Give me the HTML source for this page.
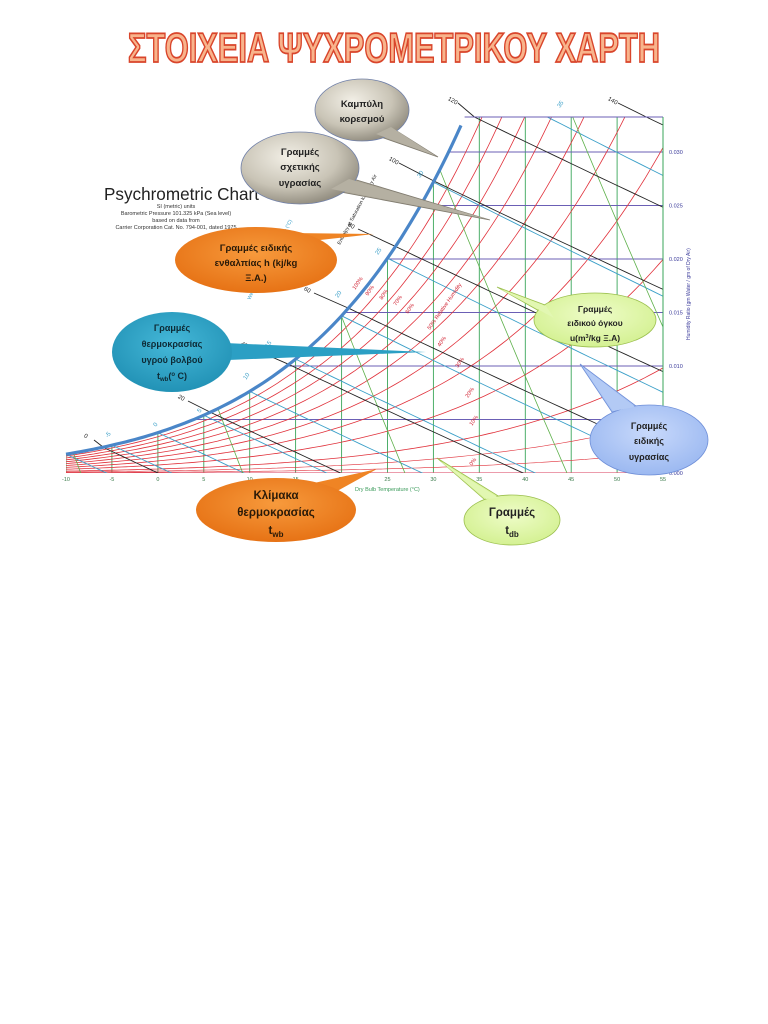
<!DOCTYPE html>
<html><head><meta charset="utf-8">
<style>
html,body{margin:0;padding:0;background:#fff;}
svg{display:block;font-family:"Liberation Sans","DejaVu Sans",sans-serif;}
</style></head>
<body>
<svg id="s" width="768" height="1024" viewBox="0 0 768 1024" xmlns="http://www.w3.org/2000/svg">
<defs>
<radialGradient id="gray" cx="40%" cy="35%" r="70%"><stop offset="0" stop-color="#f2efe6"/><stop offset="0.6" stop-color="#c9c4b6"/><stop offset="1" stop-color="#8c877a"/></radialGradient>
<radialGradient id="orange" cx="50%" cy="40%" r="65%"><stop offset="0" stop-color="#f79a3c"/><stop offset="1" stop-color="#e56f12"/></radialGradient>
<radialGradient id="teal" cx="50%" cy="40%" r="65%"><stop offset="0" stop-color="#45b8d8"/><stop offset="1" stop-color="#1f8fb3"/></radialGradient>
<radialGradient id="lgreen" cx="50%" cy="40%" r="65%"><stop offset="0" stop-color="#eefcc8"/><stop offset="1" stop-color="#d2f08e"/></radialGradient>
<radialGradient id="lblue" cx="50%" cy="40%" r="65%"><stop offset="0" stop-color="#c8d9fb"/><stop offset="1" stop-color="#98b6f0"/></radialGradient>
<clipPath id="clip"><polygon id="clipPoly" points=""/></clipPath>
</defs>
<text x="394" y="62" text-anchor="middle" font-size="42" font-weight="bold" fill="#f8b48c" stroke="#d9452b" stroke-width="1.8" textLength="532" lengthAdjust="spacingAndGlyphs">ΣΤΟΙΧΕΙΑ ΨΥΧΡΟΜΕΤΡΙΚΟΥ ΧΑΡΤΗ</text>

<text x="104" y="200" font-size="17.5" fill="#222" textLength="155" lengthAdjust="spacingAndGlyphs">Psychrometric Chart</text>
<g font-size="5.5" fill="#333" text-anchor="middle">
<text x="176" y="208">SI (metric) units</text>
<text x="176" y="215">Barometric Pressure 101.325 kPa (Sea level)</text>
<text x="176" y="222">based on data from</text>
<text x="176" y="229">Carrier Corporation Cat. No. 794-001, dated 1975</text>
</g>
<g id="chart"></g>
<g id="callouts">
<polygon points="375,135 392,128 438,157" fill="#aaa596" stroke="#7f7a6e" stroke-width="0.8"/>
<ellipse cx="362" cy="110" rx="47" ry="31" fill="url(#gray)" stroke="#6f7fa8" stroke-width="0.8"/>
<polygon points="376,134 391,127 436,156" fill="#b5b0a2"/>
<text x="362" y="107" text-anchor="middle" font-size="9.5" font-weight="bold" fill="#222">Καμπύλη</text>
<text x="362" y="122" text-anchor="middle" font-size="9.5" font-weight="bold" fill="#222">κορεσμού</text>
<polygon points="330,190 350,178 490,220" fill="#aaa596" stroke="#7f7a6e" stroke-width="0.8"/>
<ellipse cx="300" cy="168" rx="59" ry="36" fill="url(#gray)" stroke="#6f7fa8" stroke-width="0.8"/>
<polygon points="331,189 349,179 487,219" fill="#b5b0a2"/>
<text x="300" y="155" text-anchor="middle" font-size="9.5" font-weight="bold" fill="#222">Γραμμές</text>
<text x="300" y="170" text-anchor="middle" font-size="9.5" font-weight="bold" fill="#222">σχετικής</text>
<text x="300" y="186" text-anchor="middle" font-size="9.5" font-weight="bold" fill="#222">υγρασίας</text>
<polygon points="290,233 320,240 374,234" fill="#ef8424"/>
<ellipse cx="256" cy="260" rx="81" ry="33" fill="url(#orange)"/>
<text x="256" y="251" text-anchor="middle" font-size="9.5" font-weight="bold" fill="#2a1a08">Γραμμές ειδικής</text>
<text x="256" y="266" text-anchor="middle" font-size="9.5" font-weight="bold" fill="#2a1a08">ενθαλπίας h (kj/kg</text>
<text x="256" y="281" text-anchor="middle" font-size="9.5" font-weight="bold" fill="#2a1a08">Ξ.Α.)</text>
<polygon points="225,343 228,360 426,352" fill="#2b9fc4"/>
<ellipse cx="172" cy="352" rx="60" ry="40" fill="url(#teal)"/>
<text x="172" y="331" text-anchor="middle" font-size="9" font-weight="bold" fill="#0e2a35">Γραμμές</text>
<text x="172" y="347" text-anchor="middle" font-size="9" font-weight="bold" fill="#0e2a35">θερμοκρασίας</text>
<text x="172" y="363" text-anchor="middle" font-size="9" font-weight="bold" fill="#0e2a35">υγρού βολβού</text>
<text x="172" y="379" text-anchor="middle" font-size="9" font-weight="bold" fill="#0e2a35">t<tspan font-size="6" dy="2">wb</tspan><tspan dy="-2">(</tspan><tspan font-size="6" dy="-3">o</tspan><tspan dy="3"> C)</tspan></text>
<polygon points="545,305 555,320 497,287" fill="#d9f39a" stroke="#9bbf4e" stroke-width="0.8"/>
<ellipse cx="595" cy="320" rx="61" ry="27" fill="url(#lgreen)" stroke="#9bbf4e" stroke-width="0.8"/>
<polygon points="546,306 554,318 500,289" fill="#e2f7b2"/>
<text x="595" y="312" text-anchor="middle" font-size="8.5" font-weight="bold" fill="#222">Γραμμές</text>
<text x="595" y="326" text-anchor="middle" font-size="8.5" font-weight="bold" fill="#222">ειδικού όγκου</text>
<text x="595" y="341" text-anchor="middle" font-size="8.5" font-weight="bold" fill="#222">u(m<tspan font-size="5.5" dy="-3">3</tspan><tspan dy="3">/kg Ξ.Α)</tspan></text>
<polygon points="612,412 636,406 580,364" fill="#a9c3f4" stroke="#6f8fd8" stroke-width="0.8"/>
<ellipse cx="649" cy="440" rx="59" ry="35" fill="url(#lblue)" stroke="#6f8fd8" stroke-width="0.8"/>
<polygon points="613,411 635,407 583,367" fill="#b3caf5"/>
<text x="649" y="429" text-anchor="middle" font-size="9" font-weight="bold" fill="#222">Γραμμές</text>
<text x="649" y="444" text-anchor="middle" font-size="9" font-weight="bold" fill="#222">ειδικής</text>
<text x="649" y="460" text-anchor="middle" font-size="9" font-weight="bold" fill="#222">υγρασίας</text>
<polygon points="305,485 330,495 377,469" fill="#ef8424"/>
<ellipse cx="276" cy="510" rx="80" ry="32" fill="url(#orange)"/>
<text x="276" y="499" text-anchor="middle" font-size="11.5" font-weight="bold" fill="#2a1a08">Κλίμακα</text>
<text x="276" y="516" text-anchor="middle" font-size="11.5" font-weight="bold" fill="#2a1a08">θερμοκρασίας</text>
<text x="276" y="534" text-anchor="middle" font-size="11.5" font-weight="bold" fill="#2a1a08">t<tspan font-size="8" dy="3">wb</tspan></text>
<polygon points="485,500 500,497 437,458" fill="#d9f39a" stroke="#9bbf4e" stroke-width="0.8"/>
<ellipse cx="512" cy="520" rx="48" ry="25" fill="url(#lgreen)" stroke="#9bbf4e" stroke-width="0.8"/>
<polygon points="486,499 499,498 440,461" fill="#e2f7b2"/>
<text x="512" y="516" text-anchor="middle" font-size="11.5" font-weight="bold" fill="#222">Γραμμές</text>
<text x="512" y="534" text-anchor="middle" font-size="11.5" font-weight="bold" fill="#222">t<tspan font-size="8" dy="3">db</tspan></text>
</g>
</svg>
<script>
(function(){
var NS="http://www.w3.org/2000/svg";
var chart=document.getElementById("chart");
function X(t){return 66+(t+10)*9.185;}
function Y(W){return 473-W*10700;}
function ps(t){return 0.61078*Math.exp(17.27*t/(t+237.3));}
function ws(t){var p=ps(t);return 0.622*p/(101.325-p);}
var TOP=117,TSAT=33.4;
function el(name,attrs,parent){var e=document.createElementNS(NS,name);for(var k in attrs)e.setAttribute(k,attrs[k]);(parent||chart).appendChild(e);return e;}
var pts=[];
for(var t=-10;t<=TSAT;t+=0.5){pts.push(X(t).toFixed(1)+","+Math.max(TOP,Y(ws(t))).toFixed(1));}
pts.push(X(TSAT)+","+TOP);pts.push("663,"+TOP);pts.push("663,473");pts.push("66,473");
document.getElementById("clipPoly").setAttribute("points",pts.join(" "));
var g=el("g",{"clip-path":"url(#clip)"});
function poly(arr,color,w,parent){el("polyline",{points:arr.map(function(p){return p[0].toFixed(1)+","+p[1].toFixed(1)}).join(" "),fill:"none",stroke:color,"stroke-width":w},parent||g);}
for(var t=-10;t<=55;t+=5){poly([[X(t),473],[X(t),100]],"#3aa65a",0.9);}
for(var i=1;i<=6;i++){var W=i*0.005;poly([[60,Y(W)],[663,Y(W)]],"#6b5fb5",0.9);}
poly([[60,473],[663,473]],"#e0607a",1.2);
for(var r=0.1;r<0.95;r+=0.1){var a=[];for(var t=-10;t<=55;t+=0.5){var p=r*ps(t);a.push([X(t),Y(0.622*p/(101.325-p))]);}poly(a,"#e0303a",0.8);}
[0.02,0.05].forEach(function(r){var a=[];for(var t=-10;t<=55;t+=0.5){var p=r*ps(t);a.push([X(t),Y(0.622*p/(101.325-p))]);}poly(a,"#e0303a",0.6);});
for(var tw=-10;tw<=35;tw+=5){var a=[];var wsw=ws(tw);for(var t=tw;t<=tw+40;t+=1){var W=((2501-2.326*tw)*wsw-1.006*(t-tw))/(2501+1.86*t-4.186*tw);a.push([X(t),Y(W)]);if(W<0)break;}poly(a,"#3a9fc8",0.9);}
[0.75,0.80,0.85,0.90,0.95].forEach(function(v){var a=[];for(var W=0;W<=0.036;W+=0.001){var t=v*101.325/(0.287042*(1+1.6078*W))-273.15;a.push([X(t),Y(W)]);}poly(a,"#5db04a",0.8);});
var hs=[0,20,40,60,80,100,120,140];
hs.forEach(function(h){var a=[];for(var t=-10;t<=60;t+=1){var W=(h-1.006*t)/(2501+1.86*t);a.push([X(t),Y(W)]);if(W<0)break;}poly(a,"#222",0.9);});
var ext={0:[88,437],20:[182,398],40:[245,345],60:[308,290],80:[352,226],100:[393,160],120:[452,100],140:[612,100]};
hs.forEach(function(h){
  var sx,sy;
  for(var t=-10;t<=60;t+=0.1){var W=(h-1.006*t)/(2501+1.86*t);var lim=Math.min(ws(t),(473-TOP)/10700);if(W<=lim){sx=X(t);sy=Y(W);break;}}
  var e=ext[h];
  el("line",{x1:e[0]+6,y1:e[1]+3,x2:sx,y2:sy,stroke:"#222","stroke-width":0.9});
  el("text",{x:e[0]-4,y:e[1]+2,"font-size":6,fill:"#222",transform:"rotate(30 "+e[0]+" "+e[1]+")"}).textContent=h;
});
var sc=[];for(var t=-10;t<=TSAT;t+=0.5){sc.push([X(t),Math.max(TOP,Y(ws(t)))]);}
poly(sc,"#4a86c8",3.2,chart);
poly([[X(TSAT),TOP],[663,TOP]],"#6b5fb5",1,chart);
poly([[663,TOP],[663,473]],"#3aa65a",1,chart);
var rl=[["100%",355,290],["90%",368,296],["80%",382,300],["70%",396,306],["60%",408,314],["50% Relative Humidity",430,330],["40%",440,347],["30%",458,368],["20%",468,398],["10%",472,426],["0%",472,466]];
rl.forEach(function(r){el("text",{x:r[1],y:r[2],"font-size":5.5,fill:"#d02030",transform:"rotate(-55 "+r[1]+" "+r[2]+")"}).textContent=r[0];});
[[-5,108,438],[0,156,427],[5,200,413],[10,246,380],[15,268,348],[20,338,298],[25,378,255],[30,420,178],[35,560,108]].forEach(function(r){el("text",{x:r[1],y:r[2],"font-size":6,fill:"#3a9fc8",transform:"rotate(-55 "+r[1]+" "+r[2]+")"}).textContent=r[0];});
for(var t=-10;t<=55;t+=5){el("text",{x:X(t),y:481,"font-size":5.5,fill:"#3a7a4a","text-anchor":"middle"}).textContent=t;}
el("text",{x:355,y:491,"font-size":5.5,fill:"#3a9a5a"}).textContent="Dry Bulb Temperature (°C)";
["0.030","0.025","0.020","0.015","0.010","0.005","0.000"].forEach(function(s,i){el("text",{x:669,y:Y(0.030-i*0.005)+2,"font-size":5.5,fill:"#3a3a9a"}).textContent=s;});
el("text",{x:690,y:340,"font-size":5,fill:"#3a3a9a",transform:"rotate(-90 690 340)"}).textContent="Humidity Ratio (gm Water / gm of Dry Air)";
el("text",{x:250,y:300,"font-size":5,fill:"#3a9fc8",transform:"rotate(-62 250 300)"}).textContent="Wet Bulb or Saturation Temperature (°C)";
el("text",{x:340,y:245,"font-size":5,fill:"#222",transform:"rotate(-62 340 245)"}).textContent="Enthalpy at Saturation kJ/kg Dry Air";
})();
</script>
</body></html>
